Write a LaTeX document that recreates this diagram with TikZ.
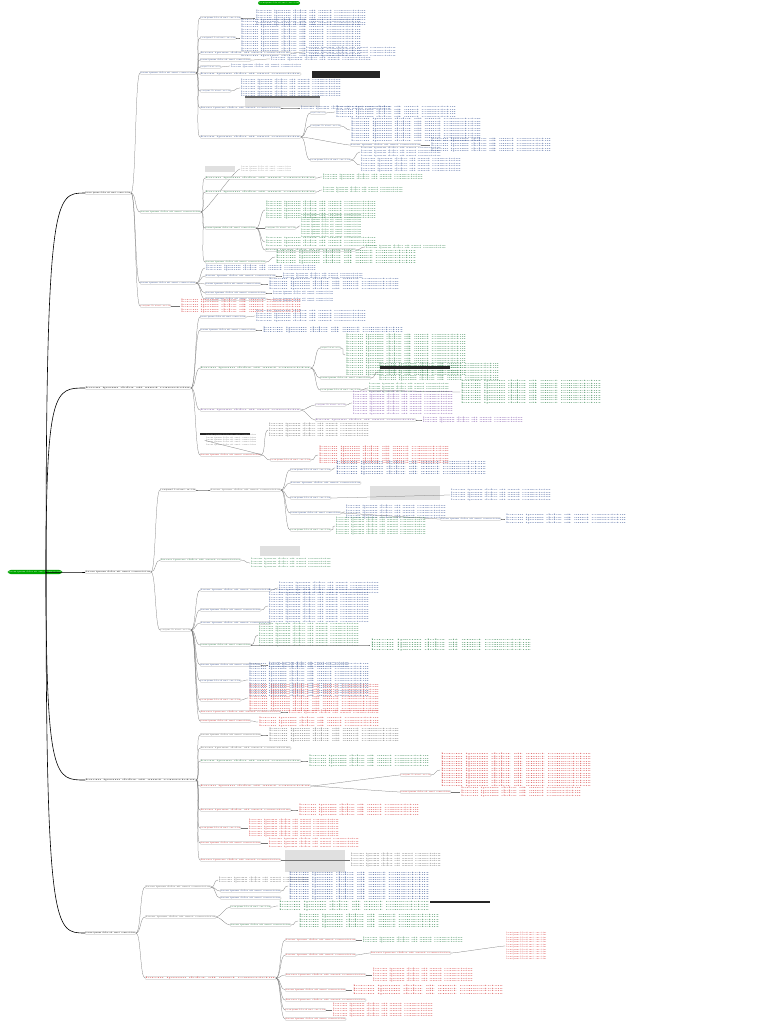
\documentclass[tikz,border=0pt]{standalone}
\usepackage{graphicx}
\definecolor{cb}{RGB}{40,70,140}
\definecolor{cg}{RGB}{30,120,60}
\definecolor{cr}{RGB}{210,40,40}
\definecolor{cp}{RGB}{110,60,160}
\definecolor{ck}{RGB}{90,90,90}
\tikzset{x=1pt,y=-1pt,
 conn/.style={draw=black!55,line width=0.25pt},
 mainc/.style={draw=black,line width=0.6pt},
 lab/.style={anchor=west,inner sep=0.4pt,draw=black!35,rounded corners=0.6pt,fill=white,line width=0.2pt},
 leaf/.style={anchor=west,inner sep=0}}
\newcommand\txt[1]{\resizebox{#1pt}{1.4pt}{lorem ipsum dolor sit amet consectetur}}
\newcommand\nd[6]{\node[lab,text=#5] (#1) at (#2,#3) {\txt{#4}};
 \draw[conn] (#6.east) .. controls +(5,0) and +(-5,0) .. (#1.west);}
\newcommand\lv[6]{\begin{scope}
 \coordinate (lvc) at (#2,#3);
 \draw[conn] (#1.east) .. controls +(5,0) and +(-5,0) .. (lvc);
 \foreach \k in {1,...,#4}{\node[leaf,text=#5] at (#2+1,{#3+(\k-0.5-#4/2)*2.4}) {\txt{#6}};}
 \end{scope}}
\begin{document}
\begin{tikzpicture}
\useasboundingbox[fill=white] (0,0) rectangle (768,1024);
\node[fill=green!65!black,text=white,rounded corners=2pt,inner sep=1pt] (title) at (279,3) {\txt{40}};
\node[fill=green!65!black,text=white,rounded corners=3pt,inner sep=1.2pt] (root) at (35,572) {\txt{52}};
\coordinate (hub) at (46,572);
\foreach \n/\y/\w in {B1/193/45,B2/388/105,B3/572/65,B4/780/110,B5/933/50}{
 \node[lab,text=black] (\n) at (85,\y) {\txt{\w}};
 \draw[mainc] (hub) .. controls (46,\y) and (55,\y) .. (\n.west);}
% ---------- Branch 1
\nd{a1}{140}{73}{55}{cb}{B1}
\nd{a11}{200}{18}{40}{cb}{a1}\lv{a11}{255}{18}{7}{cb}{110}
\nd{a12}{200}{38}{35}{cb}{a1}\lv{a12}{240}{38}{16}{cb}{120}
\nd{a13}{200}{53}{90}{cb}{a1}\lv{a13}{305}{52}{4}{cb}{90}
\nd{a14}{200}{60}{50}{cb}{a1}\lv{a14}{270}{59}{2}{cb}{100}
\nd{a15}{200}{67}{20}{cb}{a1}\lv{a15}{230}{66}{2}{cb}{70}
\nd{a16}{200}{74}{100}{cb}{a1}
\fill[black!85] (312,71) rectangle (380,78);
\nd{a17}{200}{91}{30}{cb}{a1}\lv{a17}{240}{88}{8}{cb}{100}
\fill[black!60] (245,96) rectangle (320,98);\fill[black!10] (245,98) rectangle (320,107);
\nd{a18}{200}{108}{80}{cb}{a1}\lv{a18}{300}{108}{2}{cb}{90}
\nd{a19}{200}{137}{100}{cb}{a1}
\nd{a191}{310}{113}{15}{cb}{a19}\lv{a191}{335}{112}{5}{cb}{120}
\nd{a192}{310}{126}{30}{cb}{a19}\lv{a192}{350}{130}{10}{cb}{130}
\nd{a193}{350}{145}{70}{cb}{a19}\lv{a193}{430}{145}{6}{cb}{120}
\nd{a194}{310}{160}{40}{cb}{a19}\lv{a194}{360}{152}{4}{cb}{80}\lv{a194}{360}{165}{6}{cb}{100}
\nd{a2}{140}{212}{60}{cg}{B1}
\fill[black!12] (205,166) rectangle (235,172);\lv{a2}{240}{169}{3}{black!40}{50}
\nd{a21}{205}{178}{110}{cg}{a2}\lv{a21}{322}{177}{3}{cg}{100}
\nd{a22}{205}{192}{110}{cg}{a2}\lv{a22}{322}{190}{3}{cg}{80}
\nd{a23}{205}{228}{50}{cg}{a2}
\lv{a23}{265}{210}{8}{cg}{110}
\nd{a231}{265}{228}{30}{cg}{a23}\lv{a231}{300}{226}{10}{cg}{60}
\lv{a23}{265}{242}{4}{cg}{110}
\nd{a232}{265}{250}{90}{cg}{a23}\lv{a232}{365}{247}{2}{cg}{80}
\nd{a24}{205}{262}{60}{cg}{a2}\lv{a24}{275}{257}{6}{cg}{140}
\nd{a3}{140}{283}{55}{cb}{B1}
\lv{a3}{205}{268}{3}{cb}{110}
\nd{a31}{205}{276}{70}{cb}{a3}\lv{a31}{282}{276}{3}{cb}{80}
\nd{a32}{205}{284}{55}{cb}{a3}\lv{a32}{268}{284}{5}{cb}{130}
\nd{a33}{205}{293}{60}{cb}{a3}\lv{a33}{272}{293}{2}{cb}{60}
\nd{a34}{205}{299}{60}{cb}{a3}\lv{a34}{272}{300}{2}{cb}{60}
\nd{a4}{140}{306}{30}{cr}{B1}\lv{a4}{180}{306}{6}{cr}{120}
% ---------- Branch 2
\nd{b1}{200}{317}{45}{cb}{B2}\lv{b1}{255}{316}{5}{cb}{110}
\nd{b2}{200}{330}{55}{cb}{B2}\lv{b2}{262}{330}{3}{cb}{140}
\nd{b3}{200}{368}{110}{cg}{B2}
\nd{b31}{320}{348}{20}{cg}{b3}\lv{b31}{345}{355}{18}{cg}{120}
\nd{b32}{320}{378}{50}{cg}{b3}\lv{b32}{378}{372}{8}{cg}{120}
\fill[black!85] (380,366) rectangle (450,369);
\nd{b33}{320}{390}{40}{cg}{b3}\lv{b33}{368}{388}{4}{cg}{80}
\lv{b33}{460}{392}{10}{cg}{140}
\nd{b4}{200}{410}{100}{cp}{B2}
\nd{b41}{315}{405}{30}{cp}{b4}\lv{b41}{352}{403}{10}{cp}{100}
\nd{b42}{315}{420}{100}{cp}{b4}\lv{b42}{422}{420}{3}{cp}{100}
\nd{b5}{200}{455}{60}{cr}{B2}
\fill[black!85] (200,433) rectangle (250,435);\lv{b5}{205}{440}{5}{black!50}{50}
\lv{b5}{268}{430}{6}{ck}{100}
\nd{b51}{270}{460}{40}{cr}{b5}\lv{b51}{318}{455}{8}{cr}{130}
% ---------- Branch 3
\nd{c1}{160}{490}{35}{black}{B3}
\nd{c11}{210}{490}{70}{ck}{c1}
\nd{c111}{290}{470}{40}{cb}{c11}\lv{c111}{335}{468}{6}{cb}{150}
\nd{c112}{290}{483}{70}{cb}{c11}
\nd{c113}{290}{498}{40}{cb}{c11}\fill[black!12] (370,486) rectangle (440,500);\lv{c113}{450}{495}{5}{cb}{100}
\nd{c114}{290}{513}{50}{cb}{c11}\lv{c114}{345}{512}{6}{cb}{100}
\nd{c115}{290}{530}{40}{cg}{c11}\lv{c115}{335}{526}{8}{cg}{90}
\nd{c116}{440}{519}{60}{cb}{c114}\lv{c116}{505}{519}{4}{cb}{120}
\nd{c2}{160}{560}{80}{cg}{B3}\fill[black!12] (260,546) rectangle (300,556);\lv{c2}{250}{563}{4}{cg}{80}
\nd{c3}{160}{630}{30}{ck}{B3}
\nd{c31}{200}{590}{70}{cb}{c3}\lv{c31}{278}{588}{5}{cb}{100}
\nd{c32}{200}{610}{60}{cb}{c3}\lv{c32}{268}{606}{14}{cb}{100}
\nd{c33}{200}{623}{70}{cb}{c3}
\nd{c34}{200}{645}{50}{cg}{c3}\lv{c34}{258}{635}{10}{cg}{100}\lv{c34}{370}{645}{5}{cg}{160}
\nd{c35}{200}{665}{60}{cb}{c3}\lv{c35}{268}{665}{3}{cb}{80}
\nd{c36}{200}{681}{40}{cb}{c3}\lv{c36}{248}{680}{14}{cb}{120}
\nd{c37}{200}{700}{40}{cr}{c3}\lv{c37}{248}{698}{12}{cr}{130}
\nd{c38}{200}{712}{80}{cr}{c3}\lv{c38}{288}{712}{2}{cr}{90}
\nd{c39}{200}{721}{50}{cr}{c3}\lv{c39}{258}{722}{4}{cr}{120}
% ---------- Branch 4
\nd{d1}{200}{735}{60}{ck}{B4}\lv{d1}{268}{735}{6}{ck}{130}
\nd{d2}{200}{748}{90}{ck}{B4}
\nd{d3}{200}{761}{100}{cg}{B4}\lv{d3}{308}{761}{5}{cg}{120}
\nd{d4}{200}{786}{110}{cr}{B4}
\nd{d41}{400}{775}{30}{cr}{d4}\lv{d41}{440}{770}{14}{cr}{150}
\nd{d42}{400}{792}{50}{cr}{d4}\lv{d42}{460}{792}{4}{cr}{120}
\nd{d5}{200}{810}{90}{cr}{B4}\lv{d5}{298}{810}{5}{cr}{120}
\nd{d6}{200}{828}{40}{cr}{B4}\lv{d6}{248}{828}{8}{cr}{90}
\nd{d7}{200}{843}{60}{cr}{B4}\lv{d7}{268}{843}{4}{cr}{90}
\nd{d8}{200}{860}{80}{cr}{B4}\fill[black!12] (285,850) rectangle (345,872);\lv{d8}{350}{860}{6}{ck}{90}
% ---------- Branch 5
\nd{e1}{145}{887}{65}{ck}{B5}\lv{e1}{218}{880}{3}{ck}{90}
\nd{e11}{220}{891}{60}{cb}{e1}\lv{e11}{288}{886}{12}{cb}{140}
\nd{e12}{220}{898}{60}{cb}{e1}
\nd{e2}{145}{917}{70}{ck}{B5}
\nd{e21}{230}{907}{40}{cg}{e2}\lv{e21}{278}{906}{4}{cg}{150}
\fill[black!85] (430,901) rectangle (490,903);
\nd{e22}{230}{925}{60}{cg}{e2}\lv{e22}{298}{921}{6}{cg}{140}
\nd{e3}{145}{978}{130}{cr}{B5}
\nd{e31}{285}{940}{70}{cr}{e3}\lv{e31}{362}{940}{3}{cg}{100}
\nd{e32}{285}{955}{70}{cr}{e3}
\nd{e321}{370}{953}{80}{cr}{e32}\lv{e321}{505}{946}{12}{cr}{40}
\nd{e33}{285}{975}{80}{cr}{e3}\lv{e33}{372}{975}{6}{cr}{100}
\nd{e34}{285}{990}{60}{cr}{e3}\lv{e34}{352}{990}{4}{cr}{150}
\nd{e35}{285}{1000}{80}{cr}{e3}
\nd{e36}{285}{1010}{40}{cr}{e3}\lv{e36}{332}{1010}{6}{cr}{100}
\nd{e37}{285}{1019}{60}{cr}{e3}
\end{tikzpicture}
\end{document}
